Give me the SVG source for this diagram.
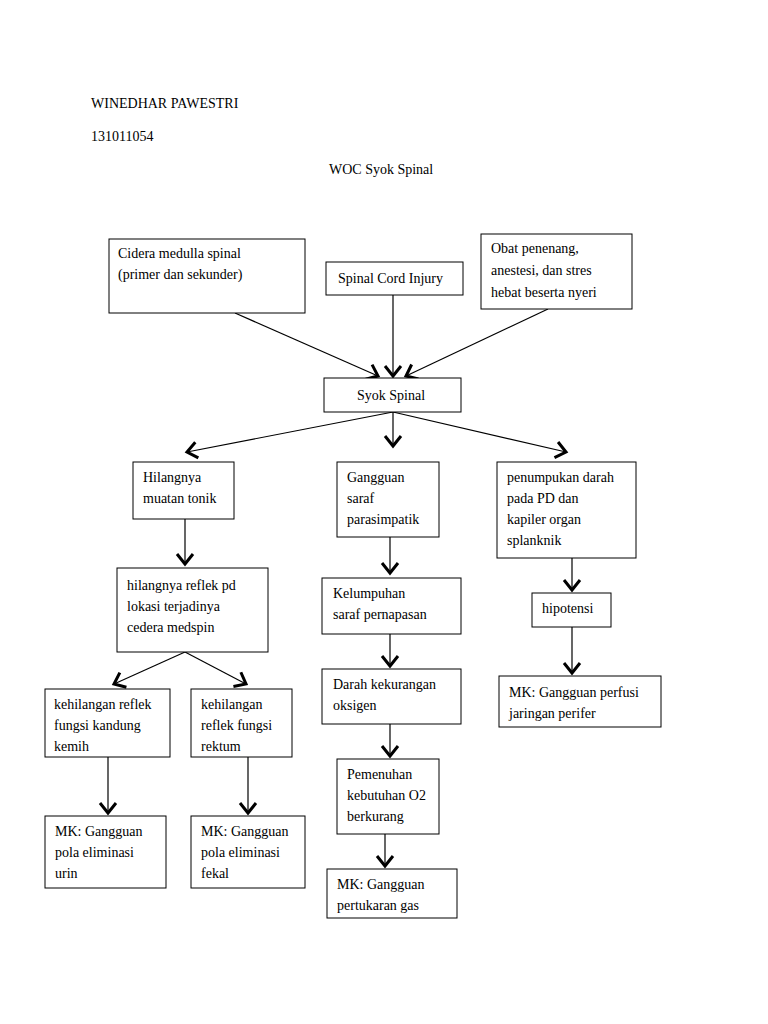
<svg xmlns="http://www.w3.org/2000/svg" width="768" height="1024" viewBox="0 0 768 1024">
<style>
text{font-family:"Liberation Serif",serif;font-size:14px;fill:#000}
rect{fill:#fff;stroke:#000;stroke-width:1}
.c line{stroke:#000;stroke-width:1.2;marker-end:url(#a)}
</style>
<defs><marker id="a" markerUnits="userSpaceOnUse" markerWidth="24" markerHeight="24" refX="12" refY="12" orient="auto" viewBox="0 0 24 24"><path d="M2,4 L12,12 L2,20" fill="none" stroke="#000" stroke-width="3"/></marker></defs>
<rect x="0" y="0" width="768" height="1024" style="stroke:none"/>
<text x="91" y="108">WINEDHAR PAWESTRI</text>
<text x="91" y="141">131011054</text>
<text x="329" y="174">WOC Syok Spinal</text>
<g class="c">
<line x1="235" y1="313" x2="378" y2="376"/>
<line x1="393" y1="295" x2="393" y2="376"/>
<line x1="548" y1="309" x2="406" y2="376"/>
<line x1="393" y1="412" x2="187" y2="452"/>
<line x1="393" y1="412" x2="393" y2="446"/>
<line x1="393" y1="412" x2="566" y2="452"/>
<line x1="185" y1="519" x2="185" y2="564"/>
<line x1="390" y1="537" x2="390" y2="573"/>
<line x1="572" y1="558" x2="572" y2="590"/>
<line x1="185" y1="652" x2="114" y2="684"/>
<line x1="185" y1="652" x2="246" y2="684"/>
<line x1="390" y1="634" x2="390" y2="666"/>
<line x1="572" y1="627" x2="572" y2="673"/>
<line x1="108" y1="757" x2="108" y2="813"/>
<line x1="248" y1="757" x2="248" y2="813"/>
<line x1="390" y1="724" x2="390" y2="756"/>
<line x1="385" y1="834" x2="385" y2="866"/>
</g>
<g id="n1"><rect x="109" y="239" width="196" height="74"/><text x="118" y="258">Cidera medulla spinal</text><text x="118" y="279">(primer dan sekunder)</text></g>
<g id="n2"><rect x="326" y="262" width="137" height="33"/><text x="338" y="283">Spinal Cord Injury</text></g>
<g id="n3"><rect x="481" y="234" width="151" height="75"/><text x="491" y="253">Obat penenang,</text><text x="491" y="275">anestesi,  dan  stres</text><text x="491" y="297">hebat  beserta  nyeri</text></g>
<g id="n4"><rect x="324" y="378" width="137" height="34"/><text x="357" y="400">Syok Spinal</text></g>
<g id="n5"><rect x="133" y="462" width="101" height="57"/><text x="143" y="482">Hilangnya</text><text x="143" y="503">muatan tonik</text></g>
<g id="n6"><rect x="337" y="462" width="102" height="75"/><text x="347" y="482">Gangguan</text><text x="347" y="503">saraf</text><text x="347" y="524">parasimpatik</text></g>
<g id="n7"><rect x="497" y="462" width="139" height="96"/><text x="507" y="482">penumpukan darah</text><text x="507" y="503">pada PD dan</text><text x="507" y="524">kapiler organ</text><text x="507" y="545">splanknik</text></g>
<g id="n8"><rect x="117" y="568" width="151" height="84"/><text x="127" y="590">hilangnya reflek pd</text><text x="127" y="611">lokasi terjadinya</text><text x="127" y="632">cedera medspin</text></g>
<g id="n9"><rect x="322" y="578" width="139" height="56"/><text x="333" y="598">Kelumpuhan</text><text x="333" y="619">saraf pernapasan</text></g>
<g id="n10"><rect x="532" y="593" width="79" height="34"/><text x="542" y="613">hipotensi</text></g>
<g id="n11"><rect x="45" y="689" width="125" height="68"/><text x="54" y="709">kehilangan reflek</text><text x="54" y="730">fungsi kandung</text><text x="54" y="751">kemih</text></g>
<g id="n12"><rect x="191" y="689" width="101" height="68"/><text x="201" y="709">kehilangan</text><text x="201" y="730">reflek fungsi</text><text x="201" y="751">rektum</text></g>
<g id="n13"><rect x="322" y="669" width="139" height="55"/><text x="333" y="689">Darah kekurangan</text><text x="333" y="710">oksigen</text></g>
<g id="n14"><rect x="499" y="676" width="162" height="51"/><text x="509" y="697">MK: Gangguan perfusi</text><text x="509" y="718">jaringan perifer</text></g>
<g id="n15"><rect x="337" y="759" width="102" height="75"/><text x="347" y="779">Pemenuhan</text><text x="347" y="800">kebutuhan O2</text><text x="347" y="821">berkurang</text></g>
<g id="n16"><rect x="45" y="816" width="121" height="72"/><text x="55" y="836">MK: Gangguan</text><text x="55" y="857">pola eliminasi</text><text x="55" y="878">urin</text></g>
<g id="n17"><rect x="191" y="816" width="114" height="72"/><text x="201" y="836">MK: Gangguan</text><text x="201" y="857">pola eliminasi</text><text x="201" y="878">fekal</text></g>
<g id="n18"><rect x="327" y="869" width="130" height="49"/><text x="337" y="889">MK: Gangguan</text><text x="337" y="910">pertukaran gas</text></g>
</svg>
